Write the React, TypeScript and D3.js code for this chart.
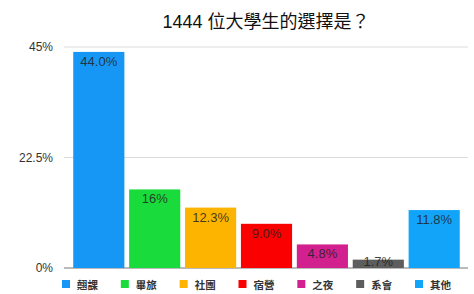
import React from "react";
import * as d3 from "d3";

const categories = ["翹課", "畢旅", "社團", "宿營", "之夜", "系會", "其他"];
const values = [44.0, 16, 12.3, 9.0, 4.8, 1.7, 11.8];
const valueLabels = ["44.0%", "16%", "12.3%", "9.0%", "4.8%", "1.7%", "11.8%"];
const colors = ["#1797f5", "#19dc3c", "#fcb400", "#fa0000", "#d2218f", "#5d5d5d", "#12a4f9"];
const yTicks = [0, 22.5, 45];
const yTickLabels = ["0%", "22.5%", "45%"];
const title = "1444 位大學生的選擇是？";

const W = 474;
const H = 294;
const margin = { left: 64, right: 6, top: 47, bottom: 26 };

export default function App() {
  const x = d3
    .scaleBand<string>()
    .domain(categories)
    .range([margin.left + 7, W - margin.right - 6])
    .paddingInner(0.085)
    .paddingOuter(0.04);
  const y = d3.scaleLinear().domain([0, 45]).range([H - margin.bottom, margin.top]);
  const font = "'Liberation Sans', 'Noto Sans CJK TC', sans-serif";
  const legendX = d3.scaleLinear().domain([0, 6]).range([62, 415]);

  return (
    <svg
      width={W}
      height={H}
      style={{ position: "absolute", left: 0, top: 0, background: "#fff" }}
      fontFamily={font}
    >
      <text x={(margin.left + W - margin.right) / 2} y={28} textAnchor="middle" fontSize={18} fill="#111">
        {title}
      </text>
      {yTicks.map((t, i) => (
        <g key={t}>
          <line
            x1={margin.left}
            x2={W - margin.right}
            y1={y(t)}
            y2={y(t)}
            stroke={t === 0 ? "#777" : "#dcdcdc"}
            strokeWidth={1}
          />
          <text x={53} y={y(t) + 4} textAnchor="end" fontSize={12} fill="#333">
            {yTickLabels[i]}
          </text>
        </g>
      ))}
      {categories.map((c, i) => {
        const top = y(values[i]);
        const base = y(0);
        const ty = Math.min(top + 14, base - 2);
        return (
          <g key={c}>
            <rect x={x(c)} y={top} width={x.bandwidth()} height={base - top} fill={colors[i]} />
            <text
              x={(x(c) ?? 0) + x.bandwidth() / 2}
              y={ty}
              textAnchor="middle"
              fontSize={13}
              fill="#222"
              fillOpacity={0.85}
            >
              {valueLabels[i]}
            </text>
          </g>
        );
      })}
      {categories.map((c, i) => (
        <g key={"l" + c} transform={`translate(${legendX(i)},280)`}>
          <rect x={0} y={0} width={8} height={8} fill={colors[i]} />
          <text x={15} y={8.5} fontSize={10.5} fontWeight="bold" fill="#333">
            {c}
          </text>
        </g>
      ))}
    </svg>
  );
}
